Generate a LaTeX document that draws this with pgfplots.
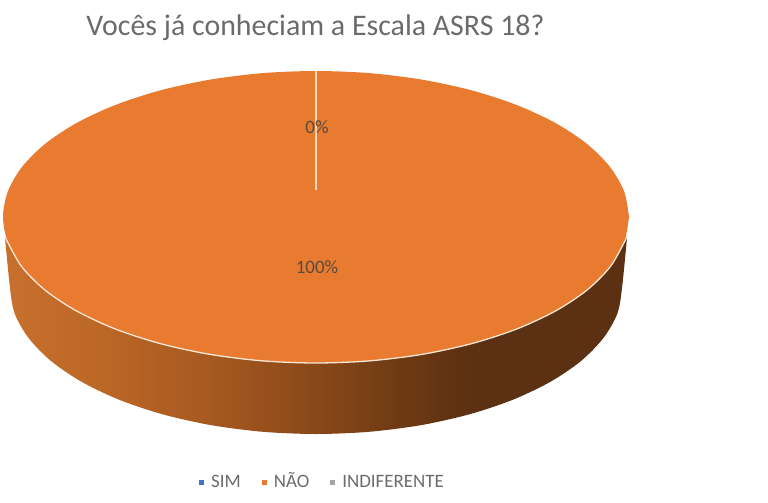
\documentclass[border=0pt]{standalone}
\usepackage{pgfplots}
\pgfplotsset{compat=1.18}
\usepackage{fontspec}
\setmainfont{Carlito}
\definecolor{pieorange}{HTML}{E97B30}
\definecolor{sim}{HTML}{4472C4}
\definecolor{ind}{HTML}{A5A5A5}
\definecolor{titlegray}{HTML}{6B6B6B}
\definecolor{labelgray}{HTML}{5A4A3C}
\definecolor{rimline}{HTML}{F8E6D6}
\definecolor{sa}{HTML}{C8702E}
\definecolor{sb}{HTML}{BC6726}
\definecolor{sc}{HTML}{A85A20}
\definecolor{sd}{HTML}{8E4B1A}
\definecolor{se}{HTML}{6E3A13}
\definecolor{sf}{HTML}{5C3012}
\pgfdeclarehorizontalshading{sideshade}{100bp}{
 color(0bp)=(sa);
 color(25bp)=(sa);
 color(32.6bp)=(sb);
 color(40.7bp)=(sc);
 color(48.7bp)=(sd);
 color(56.8bp)=(se);
 color(62.4bp)=(sf);
 color(100bp)=(sf)}
\begin{document}
\begin{tikzpicture}
\begin{axis}[
  scale only axis, width=768bp, height=503bp,
  xmin=0, xmax=768, ymin=0, ymax=503, y dir=reverse,
  hide axis, clip=false,
  legend cell align=left,
  legend columns=3,
  legend image code/.code={\path[draw=none,fill=none] (0bp,-3.5bp) rectangle (11bp,1.5bp);\path[#1,draw=none] (0bp,-3.5bp) rectangle (5bp,1.5bp);},
  legend style={draw=none, fill=none, at={(axis cs:322,481)}, anchor=center,
    font=\fontsize{19}{21}\selectfont, text=titlegray,
    nodes={text height=13bp, text depth=0bp, inner xsep=1bp},
    /tikz/column 2/.style={column sep=20bp},
    /tikz/column 4/.style={column sep=20bp}},
]
\path (rel axis cs:0,0) rectangle (rel axis cs:1,1);
% side wall of the pie
\addplot[forget plot, draw=none, shading=sideshade, shading angle=0, smooth] coordinates {
 (627,238) (622,288) (617.4,313.4) (603.5,337.9) (581,361) (550.4,381.8) (512.7,399.8)
 (469,414.4) (420.7,425.2) (369.1,431.8) (316,434) (262.9,431.8) (211.3,425.2) (163,414.4)
 (119.3,399.8) (81.6,381.8) (51,361) (28.5,337.9) (14.6,313.4) (10,288) (5,238)} -- cycle;
% top face
\addplot[forget plot, draw=none, fill=pieorange, smooth] coordinates {
 (629,217) (624.2,242.4) (610.1,266.9) (587.1,290) (555.8,310.8) (517.2,328.8) (472.5,343.4)
 (423,354.2) (370.3,360.8) (316,363) (261.7,360.8) (209,354.2) (159.5,343.4) (114.8,328.8)
 (76.2,310.8) (44.9,290) (21.9,266.9) (7.8,242.4) (3,217) (7.8,191.6) (21.9,167.1) (44.9,144)
 (76.2,123.2) (114.8,105.2) (159.5,90.6) (209,79.8) (261.7,73.2) (316,71) (370.3,73.2) (423,79.8)
 (472.5,90.6) (517.2,105.2) (555.8,123.2) (587.1,144) (610.1,167.1) (624.2,191.6) (629,217)} -- cycle;
% pale rim on the front edge
\addplot[forget plot, draw=rimline, line width=1.3bp, smooth] coordinates {
 (627,236) (624.2,242.4) (610.1,266.9) (587.1,290) (555.8,310.8) (517.2,328.8) (472.5,343.4)
 (423,354.2) (370.3,360.8) (316,363) (261.7,360.8) (209,354.2) (159.5,343.4) (114.8,328.8)
 (76.2,310.8) (44.9,290) (21.9,266.9) (7.8,242.4) (5,236)};
% the 0 % slice: a line
\addplot[forget plot, draw=rimline!85!pieorange, line width=1.3bp] coordinates {(316,71) (316,190)};
% legend entries
\addlegendimage{fill=sim}
\addlegendentry{SIM}
\addlegendimage{fill=pieorange}
\addlegendentry{NÃO}
\addlegendimage{fill=ind}
\addlegendentry{INDIFERENTE}
% texts
\node[text=titlegray, font=\fontsize{30}{34}\selectfont] at (axis cs:315.5,28) {Vocês já conheciam a Escala ASRS 18?};
\node[text=labelgray, font=\fontsize{19}{21}\selectfont] at (axis cs:317,127) {0\%};
\node[text=labelgray, font=\fontsize{19}{21}\selectfont] at (axis cs:317,267) {100\%};
\end{axis}
\end{tikzpicture}
\end{document}
